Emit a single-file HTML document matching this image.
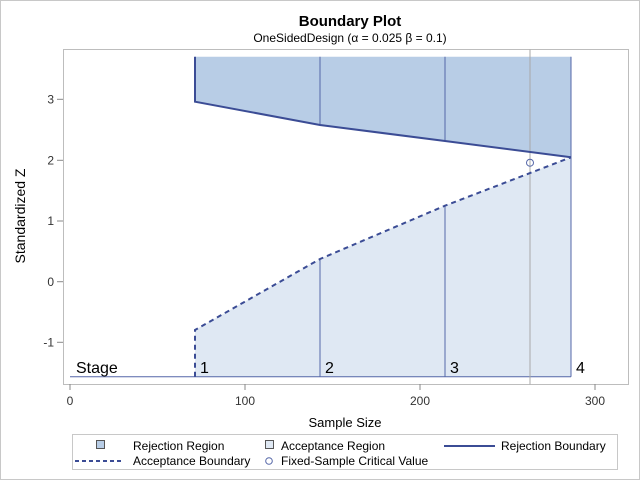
<!DOCTYPE html>
<html><head><meta charset="utf-8"><style>
body{margin:0;background:#fff}
svg{display:block;font-family:"Liberation Sans",Arial,sans-serif}
</style></head><body>
<svg width="640" height="480" viewBox="0 0 640 480">
<rect x="0.5" y="0.5" width="639" height="479" fill="#fff" stroke="#c8c8c8"/>
<text x="350" y="26" text-anchor="middle" font-size="15" font-weight="bold">Boundary Plot</text>
<text x="350" y="42" text-anchor="middle" font-size="12">OneSidedDesign (α = 0.025  β = 0.1)</text>
<rect x="63.5" y="49.5" width="565" height="335" fill="#fff" stroke="#bdbdbd"/>
<polygon points="195,56.7 571,56.7 571,157.3 445,141 320,125 195,101.7" fill="#b8cde6"/>
<polygon points="195,376.7 571,376.7 571,157.3 445,205.7 320,259 195,330" fill="#dfe8f3"/>
<g stroke="#5567a8" stroke-width="1">
<line x1="320" y1="56.7" x2="320" y2="125"/>
<line x1="445" y1="56.7" x2="445" y2="141"/>
<line x1="571" y1="56.7" x2="571" y2="376.7"/>
<line x1="320" y1="259" x2="320" y2="376.7"/>
<line x1="445" y1="205.7" x2="445" y2="376.7"/>
<line x1="70" y1="376.7" x2="571" y2="376.7"/>
</g>
<line x1="530" y1="49.5" x2="530" y2="384.5" stroke="#a8a8a8"/>
<polyline points="195,56.7 195,101.7 320,125 445,141 571,157.3" fill="none" stroke="#3b4c95" stroke-width="2"/>
<polyline points="195,376.7 195,330 320,259 445,205.7 571,157.3" fill="none" stroke="#3b4c95" stroke-width="2" stroke-dasharray="5,4"/>
<circle cx="530" cy="162.7" r="3.5" fill="none" stroke="#5567a8"/>
<g font-size="16">
<text x="76" y="373">Stage</text>
<text x="200" y="373">1</text>
<text x="325" y="373">2</text>
<text x="450" y="373">3</text>
<text x="576" y="373">4</text>
</g>
<g stroke="#888"><line x1="57" y1="99.3" x2="63" y2="99.3"/><line x1="57" y1="160.3" x2="63" y2="160.3"/><line x1="57" y1="221" x2="63" y2="221"/><line x1="57" y1="281.7" x2="63" y2="281.7"/><line x1="57" y1="342.3" x2="63" y2="342.3"/>
<line x1="70" y1="384" x2="70" y2="390"/><line x1="245" y1="384" x2="245" y2="390"/><line x1="420" y1="384" x2="420" y2="390"/><line x1="595" y1="384" x2="595" y2="390"/></g>
<g font-size="12" fill="#333" text-anchor="end">
<text x="54" y="103.5">3</text><text x="54" y="164.5">2</text><text x="54" y="225">1</text><text x="54" y="286">0</text><text x="54" y="346.5">-1</text></g>
<g font-size="12" fill="#333" text-anchor="middle">
<text x="70" y="405">0</text><text x="245" y="405">100</text><text x="420" y="405">200</text><text x="595" y="405">300</text></g>
<text x="345" y="427" text-anchor="middle" font-size="13">Sample Size</text>
<text transform="translate(25,216) rotate(-90)" text-anchor="middle" font-size="14">Standardized Z</text>
<rect x="72.5" y="434.5" width="545" height="35" fill="#fff" stroke="#c8c8c8"/>
<g font-size="12">
<rect x="96.5" y="440.5" width="8" height="8" fill="#b8cde6" stroke="#555"/>
<text x="133" y="450">Rejection Region</text>
<rect x="265.5" y="440.5" width="8" height="8" fill="#dfe8f3" stroke="#555"/>
<text x="281" y="450">Acceptance Region</text>
<line x1="444" y1="446" x2="495" y2="446" stroke="#3b4c95" stroke-width="2"/>
<text x="501" y="450">Rejection Boundary</text>
<line x1="75" y1="461" x2="122" y2="461" stroke="#3b4c95" stroke-width="2" stroke-dasharray="4,3"/>
<text x="133" y="465">Acceptance Boundary</text>
<circle cx="269" cy="461" r="3.3" fill="none" stroke="#5567a8"/>
<text x="281" y="465">Fixed-Sample Critical Value</text>
</g>
</svg>
</body></html>
